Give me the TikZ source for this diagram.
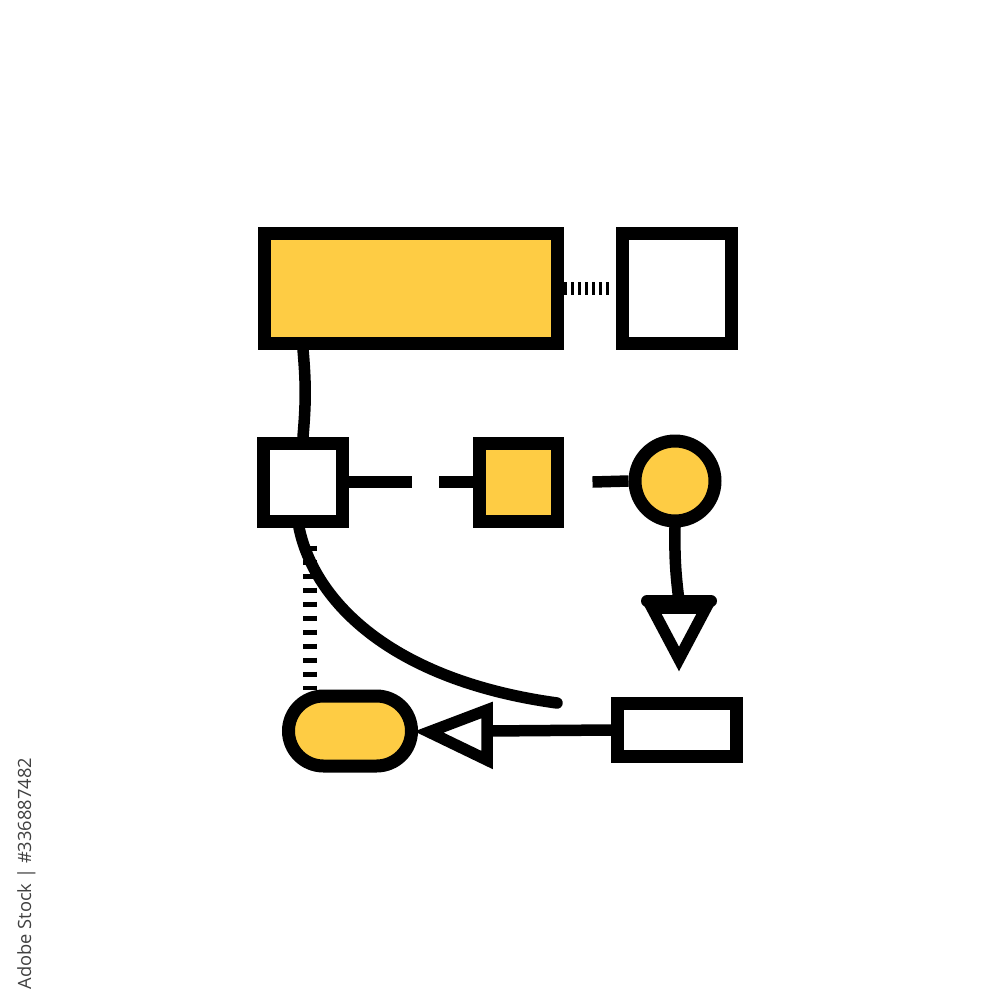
\documentclass[tikz,border=0pt]{standalone}
\usepackage{fontspec}
\setsansfont{Open Sans}
\usetikzlibrary{positioning}
\definecolor{flowyellow}{RGB}{254,204,68}
\definecolor{stockgray}{RGB}{64,64,64}

\begin{document}
\begin{tikzpicture}[x=0.1mm, y=-0.1mm,
		box/.style={draw=black, line width=1.3mm, inner sep=0pt},
		yellowbox/.style={box, fill=flowyellow},
		link/.style={line width=1.15mm, line cap=round},
		ticks/.style={line width=1.3mm, dash pattern=on 0.35mm off 0.35mm},
		openhead/.style={line width=1.15mm, line join=miter, fill=white}]
	\useasboundingbox (0,0) rectangle (1000,1000);

	% boxes of the chart
	\node[yellowbox, minimum width=29.25mm, minimum height=11mm] (plan) at (411,288) {};
	\node[box, minimum width=10.9mm, minimum height=11mm] (note) at (677,288) {};
	\node[box, minimum width=7.9mm, minimum height=7.8mm] (start) at (303,482) {};
	\node[yellowbox, minimum size=7.8mm] (task) at (518,482) {};
	\node[yellowbox, circle, minimum size=8mm] (check) at (675,481) {};
	\node[box, minimum width=11.9mm, minimum height=5.3mm] (output) at (677,730) {};
	\node[yellowbox, rounded corners=3.5mm, minimum width=12.3mm, minimum height=7mm] (finish) at (350,731) {};

	% connectors
	\draw[ticks] (plan.east) -- ([xshift=-0.4mm]note.west);
	\draw[link] (start.north |- plan.south) to[bend left=5] (start.north);
	\draw[link, line cap=butt, dash pattern=on 6.3mm off 2.7mm] (start.east) -- (task.west);
	\draw[link, line cap=butt] ([xshift=2.9mm]task.east) -- (check.west);

	% down arrow
	\coordinate (checkhead) at (679,601);
	\draw[link] (check.south) to[bend right=4] (checkhead);
	\draw[line width=1.2mm, line cap=round] ([xshift=-3.2mm]checkhead) -- ([xshift=3.2mm]checkhead);
	\draw[openhead] ([shift={(-27,7)}]checkhead) -- ([shift={(27,7)}]checkhead) -- ([shift={(0,58)}]checkhead) -- cycle;

	% left arrow
	\coordinate (finishhead) at (487,731);
	\draw[link] (output.west) -- (finishhead);
	\draw[openhead] ([shift={(0,-21)}]finishhead) -- ([shift={(0,29)}]finishhead) -- ([shift={(-58,1)}]finishhead) -- cycle;

	% curve and dotted drop
	\coordinate (curveend) at (557,703);
	\draw[link] ([xshift=-0.4mm]start.south) .. controls +(15,73) and +(-167,-23) .. (curveend);
	\draw[ticks, line width=1.4mm, dash pattern=on 0.55mm off 0.85mm] ([xshift=0.65mm, yshift=-1.8mm]start.south) -- ([xshift=0.65mm]start.south |- finish.north);

	% stock id
	\node[rotate=90, anchor=base west, inner sep=0pt, text=stockgray, font=\sffamily\fontsize{5.2}{6}\selectfont] (stockid) at (31,990) {Adobe Stock | \#336887482};
\end{tikzpicture}
\end{document}
